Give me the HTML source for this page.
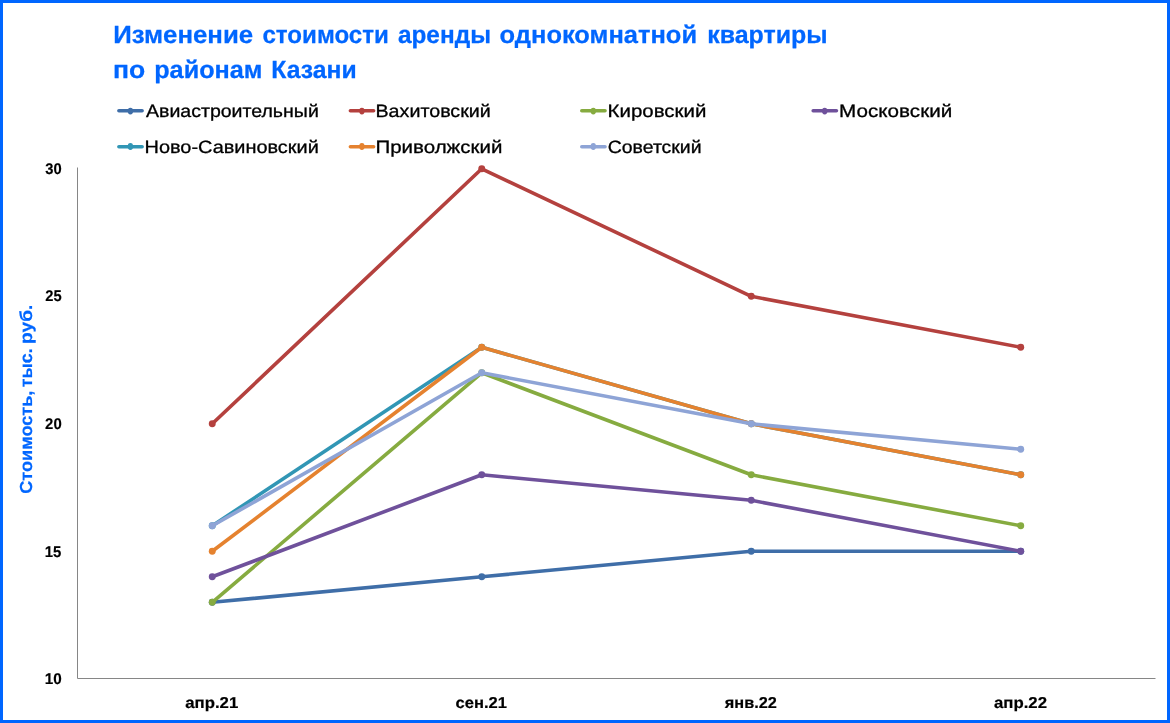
<!DOCTYPE html>
<html lang="ru">
<head>
<meta charset="utf-8">
<title>Изменение стоимости аренды однокомнатной квартиры по районам Казани</title>
<style>
html,body{margin:0;padding:0;background:#fff;}
body{width:1170px;height:723px;overflow:hidden;font-family:"Liberation Sans",sans-serif;}
svg{display:block;}
text{font-family:"Liberation Sans",sans-serif;text-rendering:geometricPrecision;}
.t{font-weight:bold;fill:#0066FF;font-size:24.8px;stroke:#0066FF;stroke-width:0.25px;}
.lg{fill:#000;font-size:17.8px;stroke:#000;stroke-width:0.3px;}
.ax{font-weight:bold;fill:#000;font-size:15.5px;stroke:#000;stroke-width:0.15px;}
.xl{font-weight:bold;fill:#000;font-size:15.7px;stroke:#000;stroke-width:0.2px;}
.yt{font-weight:bold;fill:#0066FF;font-size:17.4px;stroke:#0066FF;stroke-width:0.2px;}
</style>
</head>
<body>
<svg width="1170" height="723" viewBox="0 0 1170 723">
<rect x="0" y="0" width="1170" height="723" fill="#ffffff"/>
<rect x="1.5" y="1.5" width="1167" height="720" fill="none" stroke="#0066FF" stroke-width="3"/>
<text class="t" x="113.2" y="43.0" textLength="140.0" lengthAdjust="spacingAndGlyphs">Изменение</text>
<text class="t" x="262.4" y="43.0" textLength="126.5" lengthAdjust="spacingAndGlyphs">стоимости</text>
<text class="t" x="397.9" y="43.0" textLength="93.1" lengthAdjust="spacingAndGlyphs">аренды</text>
<text class="t" x="499.6" y="43.0" textLength="197.5" lengthAdjust="spacingAndGlyphs">однокомнатной</text>
<text class="t" x="707.2" y="43.0" textLength="120.3" lengthAdjust="spacingAndGlyphs">квартиры</text>
<text class="t" x="113.0" y="78.0" textLength="32.2" lengthAdjust="spacingAndGlyphs">по</text>
<text class="t" x="154.2" y="78.0" textLength="108.3" lengthAdjust="spacingAndGlyphs">районам</text>
<text class="t" x="271.3" y="78.0" textLength="85.3" lengthAdjust="spacingAndGlyphs">Казани</text>
<line x1="118.85" y1="110.8" x2="142.15" y2="110.8" stroke="#3F6EA8" stroke-width="3.5" stroke-linecap="round"/><ellipse cx="130.40" cy="111.10" rx="2.7" ry="3.4" fill="#3F6EA8"/>
<text class="lg" x="146.0" y="117.0" textLength="172.8" lengthAdjust="spacingAndGlyphs">Авиастроительный</text>
<line x1="350.35" y1="110.8" x2="373.65" y2="110.8" stroke="#B4413E" stroke-width="3.5" stroke-linecap="round"/><ellipse cx="361.90" cy="111.10" rx="2.7" ry="3.4" fill="#B4413E"/>
<text class="lg" x="375.5" y="117.0" textLength="115.3" lengthAdjust="spacingAndGlyphs">Вахитовский</text>
<line x1="581.75" y1="110.8" x2="605.05" y2="110.8" stroke="#86AB40" stroke-width="3.5" stroke-linecap="round"/><ellipse cx="593.30" cy="111.10" rx="2.7" ry="3.4" fill="#86AB40"/>
<text class="lg" x="607.6" y="117.0" textLength="98.8" lengthAdjust="spacingAndGlyphs">Кировский</text>
<line x1="813.15" y1="110.8" x2="836.45" y2="110.8" stroke="#6F519B" stroke-width="3.5" stroke-linecap="round"/><ellipse cx="824.70" cy="111.10" rx="2.7" ry="3.4" fill="#6F519B"/>
<text class="lg" x="839.1" y="117.0" textLength="113.2" lengthAdjust="spacingAndGlyphs">Московский</text>
<line x1="118.85" y1="146.7" x2="142.15" y2="146.7" stroke="#3196B5" stroke-width="3.5" stroke-linecap="round"/><ellipse cx="130.40" cy="146.50" rx="2.7" ry="3.4" fill="#3196B5"/>
<text class="lg" x="144.5" y="153.0" textLength="174.3" lengthAdjust="spacingAndGlyphs">Ново-Савиновский</text>
<line x1="350.35" y1="146.7" x2="373.65" y2="146.7" stroke="#E5822F" stroke-width="3.5" stroke-linecap="round"/><ellipse cx="361.90" cy="146.50" rx="2.7" ry="3.4" fill="#E5822F"/>
<text class="lg" x="375.5" y="153.0" textLength="126.9" lengthAdjust="spacingAndGlyphs">Приволжский</text>
<line x1="581.75" y1="146.7" x2="605.05" y2="146.7" stroke="#8EA4D6" stroke-width="3.5" stroke-linecap="round"/><ellipse cx="593.30" cy="146.50" rx="2.7" ry="3.4" fill="#8EA4D6"/>
<text class="lg" x="607.7" y="153.0" textLength="93.9" lengthAdjust="spacingAndGlyphs">Советский</text>
<path d="M77.5 167.5V678.5H1155.5" fill="none" stroke="#868686" stroke-width="1"/>
<text class="ax" x="44.8" y="684.0" textLength="17.0" lengthAdjust="spacingAndGlyphs">10</text>
<text class="ax" x="44.7" y="557.0" textLength="16.6" lengthAdjust="spacingAndGlyphs">15</text>
<text class="ax" x="45.1" y="429.0" textLength="16.6" lengthAdjust="spacingAndGlyphs">20</text>
<text class="ax" x="45.2" y="301.0" textLength="16.4" lengthAdjust="spacingAndGlyphs">25</text>
<text class="ax" x="45.3" y="174.0" textLength="16.4" lengthAdjust="spacingAndGlyphs">30</text>
<text class="xl" x="185.2" y="708.0" textLength="53.1" lengthAdjust="spacingAndGlyphs">апр.21</text>
<text class="xl" x="455.6" y="708.0" textLength="51.4" lengthAdjust="spacingAndGlyphs">сен.21</text>
<text class="xl" x="724.8" y="708.0" textLength="52.1" lengthAdjust="spacingAndGlyphs">янв.22</text>
<text class="xl" x="993.9" y="708.0" textLength="53.1" lengthAdjust="spacingAndGlyphs">апр.22</text>
<g transform="translate(32.1 0) rotate(-90)">
<text class="yt" x="-493.8" y="0.0" textLength="103.2" lengthAdjust="spacingAndGlyphs">Стоимость,</text>
<text class="yt" x="-387.3" y="0.0" textLength="39.0" lengthAdjust="spacingAndGlyphs">тыс.</text>
<text class="yt" x="-344.0" y="0.0" textLength="39.3" lengthAdjust="spacingAndGlyphs">руб.</text>
</g>
<g><polyline points="212.25,602.30 481.75,576.80 751.25,551.30 1020.75,551.30" fill="none" stroke="#3F6EA8" stroke-width="3.6" stroke-linejoin="round" stroke-linecap="round"/><circle cx="212.25" cy="602.30" r="3.45" fill="#3F6EA8"/><circle cx="481.75" cy="576.80" r="3.45" fill="#3F6EA8"/><circle cx="751.25" cy="551.30" r="3.45" fill="#3F6EA8"/><circle cx="1020.75" cy="551.30" r="3.45" fill="#3F6EA8"/></g>
<g><polyline points="212.25,423.80 481.75,168.80 751.25,296.30 1020.75,347.30" fill="none" stroke="#B4413E" stroke-width="3.6" stroke-linejoin="round" stroke-linecap="round"/><circle cx="212.25" cy="423.80" r="3.45" fill="#B4413E"/><circle cx="481.75" cy="168.80" r="3.45" fill="#B4413E"/><circle cx="751.25" cy="296.30" r="3.45" fill="#B4413E"/><circle cx="1020.75" cy="347.30" r="3.45" fill="#B4413E"/></g>
<g><polyline points="212.25,602.30 481.75,372.80 751.25,474.80 1020.75,525.80" fill="none" stroke="#86AB40" stroke-width="3.6" stroke-linejoin="round" stroke-linecap="round"/><circle cx="212.25" cy="602.30" r="3.45" fill="#86AB40"/><circle cx="481.75" cy="372.80" r="3.45" fill="#86AB40"/><circle cx="751.25" cy="474.80" r="3.45" fill="#86AB40"/><circle cx="1020.75" cy="525.80" r="3.45" fill="#86AB40"/></g>
<g><polyline points="212.25,576.80 481.75,474.80 751.25,500.30 1020.75,551.30" fill="none" stroke="#6F519B" stroke-width="3.6" stroke-linejoin="round" stroke-linecap="round"/><circle cx="212.25" cy="576.80" r="3.45" fill="#6F519B"/><circle cx="481.75" cy="474.80" r="3.45" fill="#6F519B"/><circle cx="751.25" cy="500.30" r="3.45" fill="#6F519B"/><circle cx="1020.75" cy="551.30" r="3.45" fill="#6F519B"/></g>
<g><polyline points="212.25,525.80 481.75,347.30 751.25,423.80 1020.75,474.80" fill="none" stroke="#3196B5" stroke-width="3.6" stroke-linejoin="round" stroke-linecap="round"/><circle cx="212.25" cy="525.80" r="3.45" fill="#3196B5"/><circle cx="481.75" cy="347.30" r="3.45" fill="#3196B5"/><circle cx="751.25" cy="423.80" r="3.45" fill="#3196B5"/><circle cx="1020.75" cy="474.80" r="3.45" fill="#3196B5"/></g>
<g><polyline points="212.25,551.30 481.75,347.30 751.25,423.80 1020.75,474.80" fill="none" stroke="#E5822F" stroke-width="3.6" stroke-linejoin="round" stroke-linecap="round"/><circle cx="212.25" cy="551.30" r="3.45" fill="#E5822F"/><circle cx="481.75" cy="347.30" r="3.45" fill="#E5822F"/><circle cx="751.25" cy="423.80" r="3.45" fill="#E5822F"/><circle cx="1020.75" cy="474.80" r="3.45" fill="#E5822F"/></g>
<g><polyline points="212.25,525.80 481.75,372.80 751.25,423.80 1020.75,449.30" fill="none" stroke="#8EA4D6" stroke-width="3.6" stroke-linejoin="round" stroke-linecap="round"/><circle cx="212.25" cy="525.80" r="3.45" fill="#8EA4D6"/><circle cx="481.75" cy="372.80" r="3.45" fill="#8EA4D6"/><circle cx="751.25" cy="423.80" r="3.45" fill="#8EA4D6"/><circle cx="1020.75" cy="449.30" r="3.45" fill="#8EA4D6"/></g>
</svg>
</body>
</html>
